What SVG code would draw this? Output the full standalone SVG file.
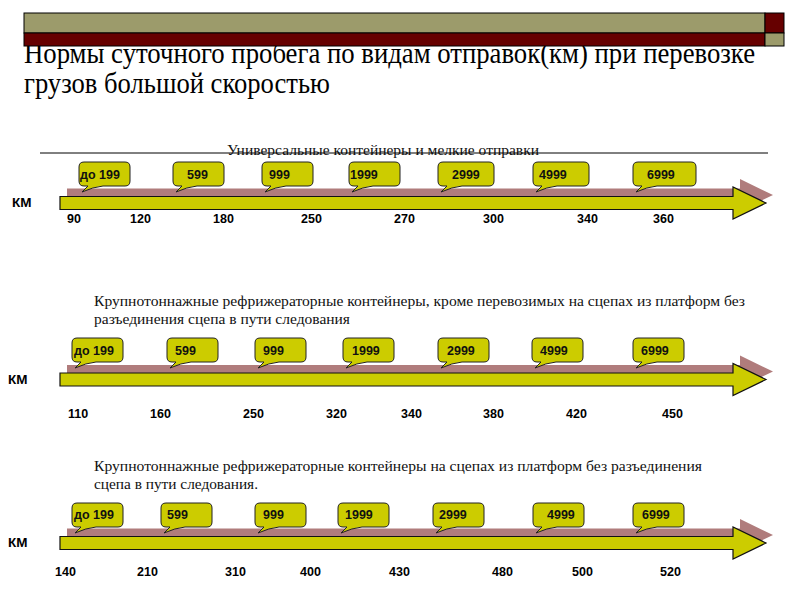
<svg xmlns="http://www.w3.org/2000/svg" xmlns:xlink="http://www.w3.org/1999/xlink" width="800" height="600" viewBox="0 0 800 600">
<style>
.title{font-family:"Liberation Serif","Times New Roman",serif;font-size:30px;fill:#000}
.cap{font-family:"Liberation Serif","Times New Roman",serif;font-size:14px;fill:#111}
.km{font-family:"Liberation Sans",Arial,sans-serif;font-size:13.5px;font-weight:bold;fill:#000}
.num{font-family:"Liberation Sans",Arial,sans-serif;font-size:12.5px;font-weight:bold;fill:#000}
.bt{font-family:"Liberation Sans",Arial,sans-serif;font-size:12.5px;font-weight:bold;fill:#111}
.bub{fill:#cccc00;stroke:#222;stroke-width:1}
.arr{fill:#cccc00;stroke:#111;stroke-width:1.2}
.shd{fill:#b07c7c}
</style>
<defs>
<path id="arrow" d="M60,-6.5 H733 V-16 L766,0 L733,16 V6.5 H60 Z"/>
<path id="b51" d="M5,0 H46 Q51,0 51,5 V19 Q51,24 46,24 H24 Q14,25 3,30 L9,24 H5 Q0,24 0,19 V5 Q0,0 5,0 Z"/>
<path id="b56" d="M5,0 H51 Q56,0 56,5 V19 Q56,24 51,24 H24 Q14,25 3,30 L9,24 H5 Q0,24 0,19 V5 Q0,0 5,0 Z"/>
<path id="b63" d="M5,0 H58 Q63,0 63,5 V19 Q63,24 58,24 H24 Q14,25 3,30 L9,24 H5 Q0,24 0,19 V5 Q0,0 5,0 Z"/>
</defs>
<rect width="800" height="600" fill="#fff"/>

<g id="title">
<text class="title" x="24" y="63" textLength="731" lengthAdjust="spacingAndGlyphs">Нормы суточного пробега по видам отправок(км) при перевозке</text>
<text class="title" x="24" y="93" textLength="306" lengthAdjust="spacingAndGlyphs">грузов большой скоростью</text>
</g>
<g id="header">
<rect x="24" y="13" width="741" height="20" fill="#9c9b6b" stroke="#000" stroke-width="1"/>
<rect x="765" y="13" width="19" height="20" fill="#660000" stroke="#000" stroke-width="1"/>
<rect x="24" y="33" width="741" height="13" fill="#660000" stroke="#000" stroke-width="1"/>
<rect x="765" y="33" width="19" height="13" fill="#9c9b6b" stroke="#000" stroke-width="1"/>
</g>

<!-- Section 1 -->
<g id="section1">
<text class="cap" x="227" y="155" textLength="312" lengthAdjust="spacingAndGlyphs">Универсальные контейнеры и мелкие отправки</text>
<line x1="40" y1="153" x2="768" y2="153" stroke="#000" stroke-width="1"/>
<g id="arrow1">
<use xlink:href="#arrow" class="shd" transform="translate(7,195)"/>
<use xlink:href="#arrow" class="arr" transform="translate(0,203)"/>
</g>
<text class="km" x="12" y="207">КМ</text>
<g id="s1b1"><use xlink:href="#b51" class="bub" transform="translate(79,162)"/><text class="bt" x="80" y="179">до 199</text></g>
<g id="s1b2"><use xlink:href="#b51" class="bub" transform="translate(173,162)"/><text class="bt" x="187" y="179">599</text></g>
<g id="s1b3"><use xlink:href="#b51" class="bub" transform="translate(262,162)"/><text class="bt" x="269" y="179">999</text></g>
<g id="s1b4"><use xlink:href="#b51" class="bub" transform="translate(349,162)"/><text class="bt" x="350" y="179">1999</text></g>
<g id="s1b5"><use xlink:href="#b56" class="bub" transform="translate(438,162)"/><text class="bt" x="452" y="179">2999</text></g>
<g id="s1b6"><use xlink:href="#b56" class="bub" transform="translate(533,162)"/><text class="bt" x="539" y="179">4999</text></g>
<g id="s1b7"><use xlink:href="#b63" class="bub" transform="translate(633,162)"/><text class="bt" x="647" y="179">6999</text></g>
<g id="s1nums">
<text class="num" x="67" y="223">90</text>
<text class="num" x="130" y="223">120</text>
<text class="num" x="213" y="223">180</text>
<text class="num" x="301" y="223">250</text>
<text class="num" x="394" y="223">270</text>
<text class="num" x="483" y="223">300</text>
<text class="num" x="577" y="223">340</text>
<text class="num" x="653" y="223">360</text>
</g>
</g>

<!-- Section 2 -->
<g id="section2">
<text class="cap" x="94" y="306" textLength="651" lengthAdjust="spacingAndGlyphs">Крупнотоннажные рефрижераторные контейнеры, кроме перевозимых на сцепах из платформ без</text>
<text class="cap" x="94" y="324" textLength="256" lengthAdjust="spacingAndGlyphs">разъединения сцепа в пути следования</text>
<g id="arrow2">
<use xlink:href="#arrow" class="shd" transform="translate(7,371.5)"/>
<use xlink:href="#arrow" class="arr" transform="translate(0,379.5)"/>
</g>
<text class="km" x="8" y="384">КМ</text>
<g id="s2b1"><use xlink:href="#b51" class="bub" transform="translate(72,338)"/><text class="bt" x="74" y="355">до 199</text></g>
<g id="s2b2"><use xlink:href="#b51" class="bub" transform="translate(167,338)"/><text class="bt" x="175" y="355">599</text></g>
<g id="s2b3"><use xlink:href="#b51" class="bub" transform="translate(255,338)"/><text class="bt" x="263" y="355">999</text></g>
<g id="s2b4"><use xlink:href="#b51" class="bub" transform="translate(343,338)"/><text class="bt" x="352" y="355">1999</text></g>
<g id="s2b5"><use xlink:href="#b51" class="bub" transform="translate(438,338)"/><text class="bt" x="447" y="355">2999</text></g>
<g id="s2b6"><use xlink:href="#b51" class="bub" transform="translate(532,338)"/><text class="bt" x="540" y="355">4999</text></g>
<g id="s2b7"><use xlink:href="#b51" class="bub" transform="translate(633,338)"/><text class="bt" x="641" y="355">6999</text></g>
<g id="s2nums">
<text class="num" x="68" y="418">110</text>
<text class="num" x="150" y="418">160</text>
<text class="num" x="243" y="418">250</text>
<text class="num" x="326" y="418">320</text>
<text class="num" x="401" y="418">340</text>
<text class="num" x="483" y="418">380</text>
<text class="num" x="566" y="418">420</text>
<text class="num" x="662" y="418">450</text>
</g>
</g>

<!-- Section 3 -->
<g id="section3">
<text class="cap" x="94" y="471" textLength="608" lengthAdjust="spacingAndGlyphs">Крупнотоннажные рефрижераторные контейнеры на сцепах из платформ без разъединения</text>
<text class="cap" x="94" y="489" textLength="164" lengthAdjust="spacingAndGlyphs">сцепа в пути следования.</text>
<g id="arrow3">
<use xlink:href="#arrow" class="shd" transform="translate(7,535)"/>
<use xlink:href="#arrow" class="arr" transform="translate(0,543)"/>
</g>
<text class="km" x="8" y="547">КМ</text>
<g id="s3b1"><use xlink:href="#b51" class="bub" transform="translate(72,503)"/><text class="bt" x="74" y="519">до 199</text></g>
<g id="s3b2"><use xlink:href="#b51" class="bub" transform="translate(161,503)"/><text class="bt" x="167" y="519">599</text></g>
<g id="s3b3"><use xlink:href="#b51" class="bub" transform="translate(255,503)"/><text class="bt" x="263" y="519">999</text></g>
<g id="s3b4"><use xlink:href="#b51" class="bub" transform="translate(338,503)"/><text class="bt" x="345" y="519">1999</text></g>
<g id="s3b5"><use xlink:href="#b51" class="bub" transform="translate(433,503)"/><text class="bt" x="439" y="519">2999</text></g>
<g id="s3b6"><use xlink:href="#b51" class="bub" transform="translate(533,503)"/><text class="bt" x="547" y="519">4999</text></g>
<g id="s3b7"><use xlink:href="#b51" class="bub" transform="translate(633,503)"/><text class="bt" x="642" y="519">6999</text></g>
<g id="s3nums">
<text class="num" x="55" y="576">140</text>
<text class="num" x="137" y="576">210</text>
<text class="num" x="225" y="576">310</text>
<text class="num" x="300" y="576">400</text>
<text class="num" x="389" y="576">430</text>
<text class="num" x="492" y="576">480</text>
<text class="num" x="572" y="576">500</text>
<text class="num" x="660" y="576">520</text>
</g>
</g>
</svg>
